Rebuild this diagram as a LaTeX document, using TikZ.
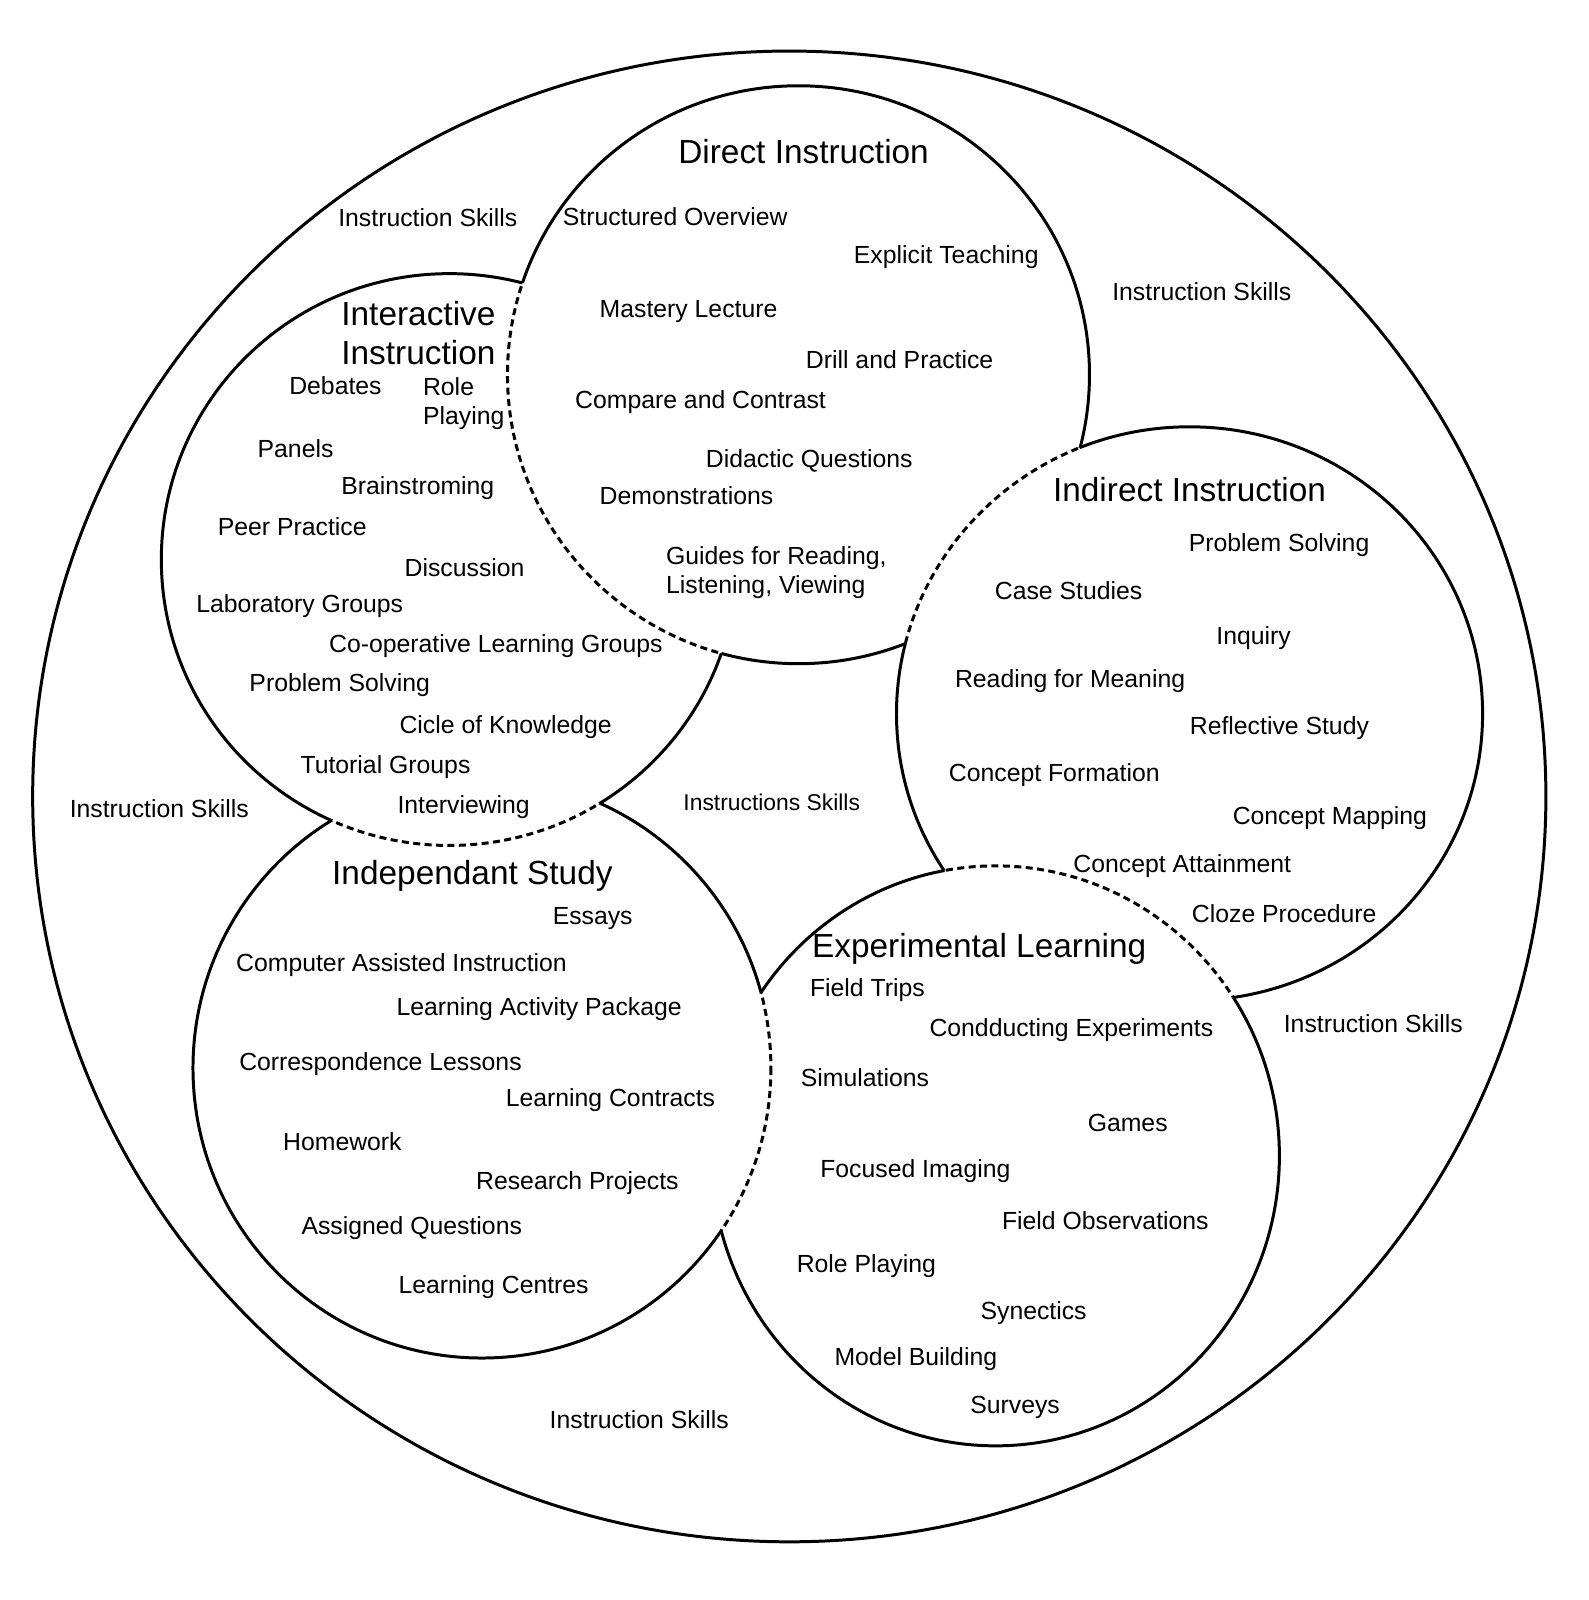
\documentclass[tikz,border=0pt]{standalone}
\usepackage{fontspec}
\setmainfont{Liberation Sans}
\usetikzlibrary{positioning}
\tikzset{
  ring/.style={line width=1.7pt,draw=black},
  hidden/.style={ring,dash pattern=on 4pt off 2.5pt},
  item/.style={anchor=west,inner sep=0pt,align=left,font=\fontsize{14.1}{16.5}\selectfont},
  head/.style={anchor=west,inner sep=0pt,align=left,font=\fontsize{19}{22.5}\selectfont},
  skill/.style={anchor=west,inner sep=0pt,font=\fontsize{14.1}{16}\selectfont}
}
% circles (pixel units)
\def\cDirect{(782,367) ellipse [x radius=285,y radius=283]}
\def\cInter{(440,548) ellipse [x radius=282,y radius=280]}
\def\cIndir{(1165,699) ellipse [x radius=287,y radius=281]}
\def\cIndep{(472,1046) ellipse [x radius=283,y radius=284]}
\def\cExper{(975,1132) ellipse [x radius=278,y radius=284]}
\def\frame{(-10,-10) rectangle (1600,1610)}
% #1 circle, #2 dashed inside, #3 hidden inside
\newcommand\ringpart[3]{%
  \begin{scope}[even odd rule]
    \clip \frame #3;
    \begin{scope}
      \clip \frame #2;
      \draw[ring] #1;
    \end{scope}
    \begin{scope}
      \clip #2;
      \draw[hidden] #1;
    \end{scope}
  \end{scope}}
\begin{document}
\begin{tikzpicture}[x=0.02042cm,y=-0.02042cm]
  \useasboundingbox (0,0) rectangle (1556,1567);
  \draw[ring] (773,780) ellipse [x radius=741,y radius=730];

  \ringpart{\cDirect}{\cInter}{\cIndir}
  \ringpart{\cInter}{\cIndep}{\cDirect}
  \ringpart{\cIndep}{\cExper}{\cInter}
  \ringpart{\cExper}{\cIndir}{\cIndep}
  \ringpart{\cIndir}{\cDirect}{\cExper}

  % outer labels
  \node (s1) [skill] at (331,213) {Instruction Skills};
  \node (s2) [skill] at (1089,286) {Instruction Skills};
  \node (s3) [skill] at (68,792) {Instruction Skills};
  \node (s4) [skill] at (1257,1003) {Instruction Skills};
  \node (s5) [skill] at (538,1390) {Instruction Skills};
  \node (s6) [skill,font=\fontsize{13}{15}\selectfont] at (669,786) {Instructions Skills};

  % Direct Instruction
  \node (direct) [head,anchor=center] at (787,148) {Direct Instruction};
  \foreach \x/\y/\t [count=\i] in {551/212/Structured Overview, 836/252/Explicit Teaching,
      587/305/Mastery Lecture, 789/352/Drill and Practice, 563/394/Compare and Contrast,
      691/451/Didactic Questions, 587/485/Demonstrations,
      652/561/{Guides for Reading,\\Listening, Viewing}}
    \node (d\i) [item] at (\x,\y) {\t};

  % Interactive Instruction
  \node (inter) [head] at (334,326) {Interactive\\Instruction};
  \foreach \x/\y/\t [count=\i] in {283/378/Debates, 414/395/{Role\\Playing}, 252/439/Panels,
      334/478/Brainstroming, 213/516/Peer Practice, 396/556/Discussion,
      192/594/Laboratory Groups, 322/633/Co-operative Learning Groups,
      244/671/Problem Solving, 391/712/Cicle of Knowledge, 294/751/Tutorial Groups,
      389/790/Interviewing}
    \node (a\i) [item] at (\x,\y) {\t};

  % Indirect Instruction
  \node (indir) [head] at (1031,479) {Indirect Instruction};
  \foreach \x/\y/\t [count=\i] in {1164/534/Problem Solving, 974/578/Case Studies,
      1191/625/Inquiry, 935/667/Reading for Meaning, 1165/713/Reflective Study,
      929/759/Concept Formation, 1207/801/Concept Mapping,
      1051/848/Concept Attainment, 1167/895/Cloze Procedure}
    \node (r\i) [item] at (\x,\y) {\t};

  % Independant Study
  \node (indep) [head] at (325,858) {Independant Study};
  \foreach \x/\y/\t [count=\i] in {541/900/Essays, 231/945/Computer Assisted Instruction,
      388/988/Learning Activity Package, 234/1042/Correspondence Lessons,
      495/1077/Learning Contracts, 277/1118/Homework, 466/1159/Research Projects,
      295/1203/Assigned Questions, 390/1261/Learning Centres}
    \node (p\i) [item] at (\x,\y) {\t};

  % Experimental Learning
  \node (exper) [head] at (795,929) {Experimental Learning};
  \foreach \x/\y/\t [count=\i] in {793/970/Field Trips, 910/1009/Condducting Experiments,
      784/1055/Simulations, 1065/1100/Games, 803/1147/Focused Imaging,
      981/1195/Field Observations, 780/1240/Role Playing, 960/1286/Synectics,
      817/1331/Model Building, 950/1378/Surveys}
    \node (e\i) [item] at (\x,\y) {\t};
\end{tikzpicture}
\end{document}
